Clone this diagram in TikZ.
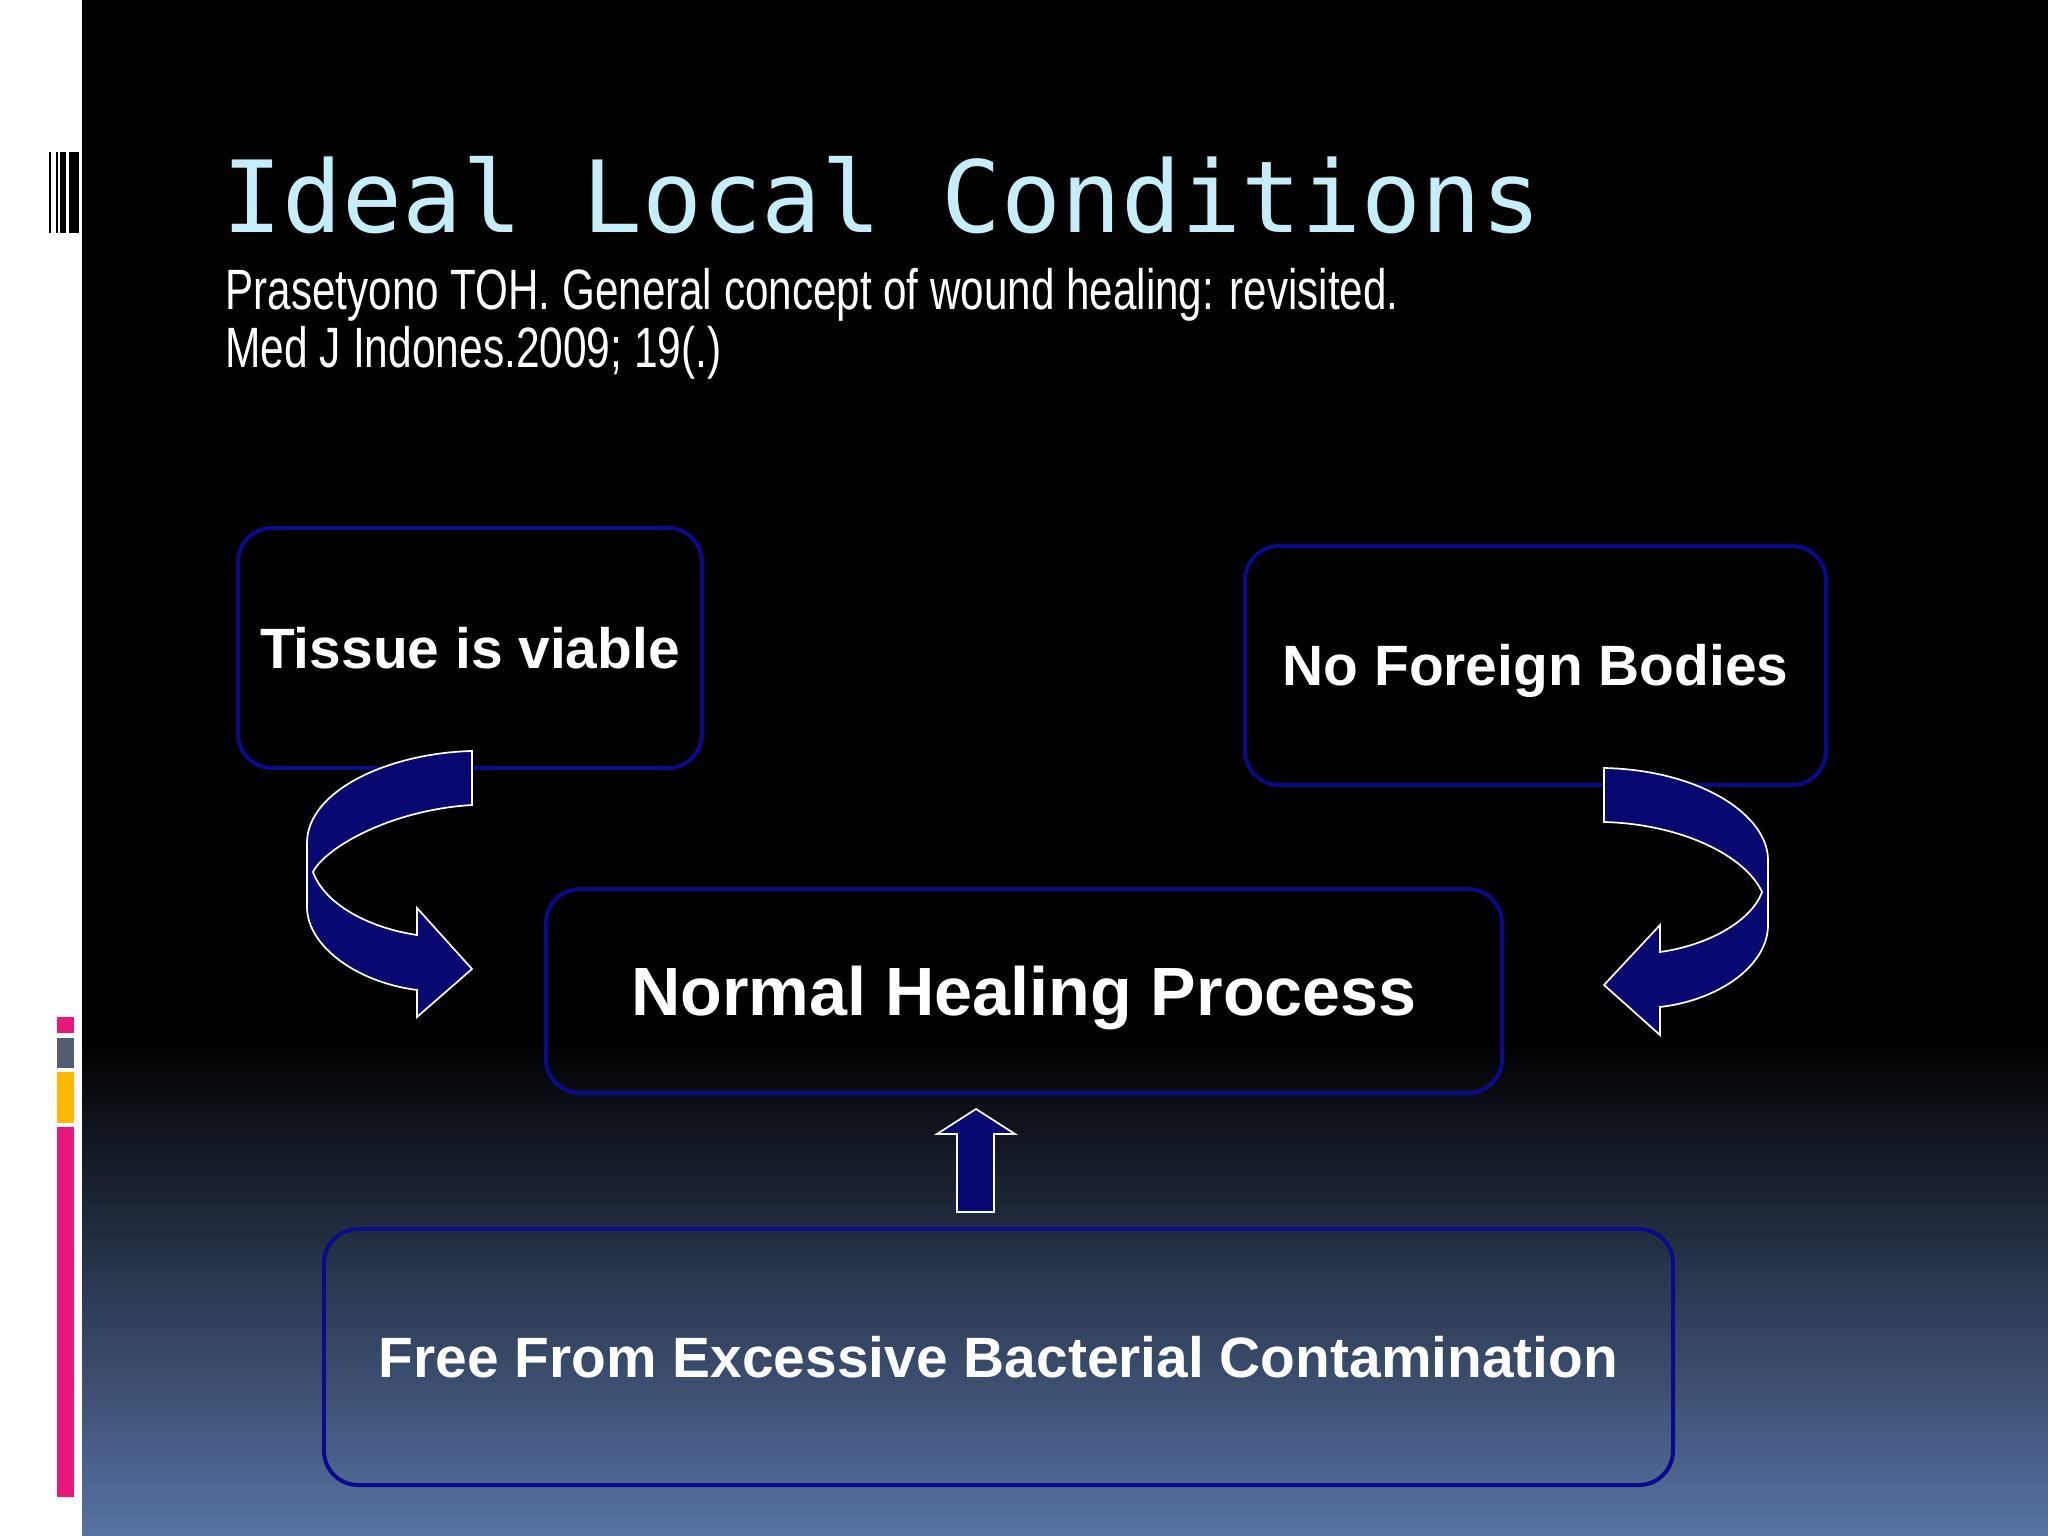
\documentclass[tikz,border=0pt]{standalone}
\usepackage{fontspec}
\usepackage{graphicx}
\setmainfont{Liberation Sans}
\newfontfamily\titlefont{DejaVu Sans Mono}
\newcommand\pxu{0.3515625pt}
\definecolor{navyline}{RGB}{10,10,140}
\definecolor{arrowfill}{RGB}{8,8,112}
\definecolor{titlecyan}{RGB}{198,238,250}
\definecolor{bgbottom}{RGB}{87,114,163}
\definecolor{stripepink}{RGB}{231,24,122}
\definecolor{stripegrey}{RGB}{82,93,115}
\definecolor{stripeorange}{RGB}{252,185,0}
\begin{document}
\begin{tikzpicture}[x=0.3515625pt,y=-0.3515625pt,
  box/.style={draw=navyline, line width=1.4pt, rounded corners=12pt, text=white,
    font=\bfseries\fontsize{20}{24}\selectfont, align=center, inner sep=0pt,
    text height=14.3pt, text depth=0pt},
  bigbox/.style={box, font=\bfseries\fontsize{24}{28}\selectfont, text height=17.2pt},
  bentarrow/.style={fill=arrowfill, draw=white, line width=0.6pt, line join=miter},
  sub/.style={anchor=base west, inner sep=0pt, text=white, font=\fontsize{20}{24}\selectfont}]
\useasboundingbox (0,0) rectangle (2048,1536);
% background
\fill[white] (0,0) rectangle (82,1536);
\fill[black] (82,0) rectangle (2048,1042);
\shade[top color=black, bottom color=bgbottom] (82,1040) rectangle (2048,1536);
% barcode marks
\fill[black] (49,152) rectangle (51,233);
\fill[black] (56,152) rectangle (58,233);
\fill[black] (60,152) rectangle (66,233);
\fill[black] (69,152) rectangle (79,233);
% coloured stripes
\fill[stripepink] (57,1017) rectangle (74,1033);
\fill[stripegrey] (57,1038) rectangle (74,1068);
\fill[stripeorange] (57,1072) rectangle (74,1123);
\fill[stripepink] (57,1127) rectangle (74,1497);
% title
\node[anchor=base west, inner sep=0pt, text=titlecyan, font=\titlefont\fontsize{35}{40}\selectfont]
  (title) at (222,233) {Ideal Local Conditions};
\node[sub] (ref1) at (225,310) {\resizebox{412.4pt}{\height}{Prasetyono TOH. General concept of wound healing: revisited.}};
\node[sub] (ref2) at (225,368) {\resizebox{174.4pt}{\height}{Med J Indones.2009; 19(.)}};
% boxes
\node[box, minimum width=464*\pxu, minimum height=240*\pxu] (tissue) at (470,648) {Tissue is viable};
\node[box, minimum width=581*\pxu, minimum height=239*\pxu] (foreign) at (1535.5,665.5) {No Foreign Bodies};
\node[bigbox, minimum width=956*\pxu, minimum height=204*\pxu] (normal) at (1024,991) {Normal Healing Process};
\node[box, minimum width=1349*\pxu, minimum height=256*\pxu] (free) at (998.5,1357) {Free From Excessive Bacterial Contamination};
% left curved arrow
\draw[bentarrow] (472,751) .. controls (390,753) and (307,790) .. (307,843) -- (307,907)
  .. controls (307,945) and (355,982) .. (417,990) -- (417,1017) -- (472,969) -- (417,908) -- (417,935)
  .. controls (370,928) and (325,905) .. (313,872)
  .. controls (325,848) and (390,810) .. (472,805) -- cycle;
% right curved arrow
\draw[bentarrow] (1604,768) .. controls (1700,770) and (1768,815) .. (1768,860) -- (1768,925)
  .. controls (1768,965) and (1720,1000) .. (1660,1007) -- (1660,1035) -- (1604,985) -- (1660,925) -- (1660,952)
  .. controls (1710,945) and (1752,920) .. (1762,892)
  .. controls (1745,855) and (1680,824) .. (1604,822) -- cycle;
% up arrow
\draw[bentarrow] (976,1109) -- (1015,1134) -- (994,1134) -- (994,1212) -- (957,1212) -- (957,1134) -- (937,1134) -- cycle;
\end{tikzpicture}
\end{document}
